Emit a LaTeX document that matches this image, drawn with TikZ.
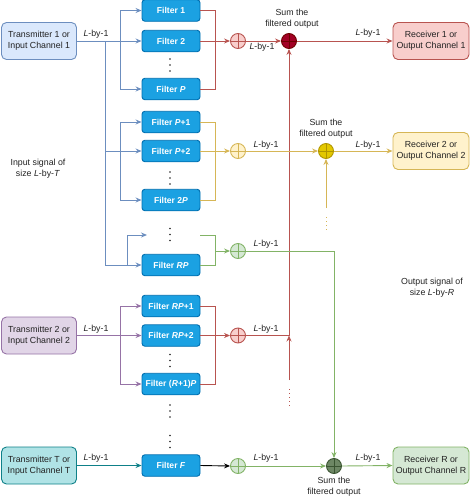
\documentclass[tikz,border=0pt]{standalone}
\usepackage{fontspec}
\setmainfont{Liberation Sans}
\usetikzlibrary{arrows.meta}
\definecolor{filterfill}{HTML}{1BA1E2}
\definecolor{filterdraw}{HTML}{006EAF}
\definecolor{textc}{HTML}{222222}
\definecolor{cblue}{HTML}{6C8EBF}
\definecolor{bluefill}{HTML}{DAE8FC}
\definecolor{cred}{HTML}{B85450}
\definecolor{redfill}{HTML}{F8CECC}
\definecolor{cyel}{HTML}{D6B656}
\definecolor{yelfill}{HTML}{FFF2CC}
\definecolor{cgrn}{HTML}{82B366}
\definecolor{grnfill}{HTML}{D5E8D4}
\definecolor{cpur}{HTML}{9673A6}
\definecolor{purfill}{HTML}{E1D5E7}
\definecolor{cteal}{HTML}{0E8088}
\definecolor{tealfill}{HTML}{B0E3E6}
\definecolor{sredfill}{HTML}{A20025}
\definecolor{sreddraw}{HTML}{6F0000}
\definecolor{syelfill}{HTML}{E3C800}
\definecolor{syeldraw}{HTML}{B09500}
\definecolor{sgrnfill}{HTML}{6D8764}
\definecolor{sgrndraw}{HTML}{3A5431}
\newcommand\Lby{\textit{L}-by-1}
\newcommand\crossin[2]{\draw[#2, line width=0.6pt] (#1.north) -- (#1.south) (#1.west) -- (#1.east);}
\newcommand\vdotsat[2]{\fill[textc] (#1,#2-6) circle (0.85pt) (#1,#2) circle (0.85pt) (#1,#2+6) circle (0.85pt);}
\begin{document}
\begin{tikzpicture}[x=1pt,y=-1pt,
  font=\fontsize{8.8}{11}\selectfont,
  filterbox/.style={draw=filterdraw, fill=filterfill, rounded corners=3pt,
    minimum width=58pt, minimum height=21.5pt, text=white, inner sep=0pt,
    font=\fontsize{8.6}{10}\selectfont\bfseries, line width=0.9pt},
  endbox/.style={rounded corners=5pt, minimum width=75pt, minimum height=37pt,
    align=center, inner sep=0pt, line width=0.9pt, text=textc},
  adder/.style={circle, minimum size=15pt, inner sep=0pt, line width=0.9pt},
  conn/.style={line width=0.9pt, -{Stealth[length=6pt,width=5pt]}},
  plain/.style={line width=0.9pt},
  lab/.style={inner sep=1pt, text=textc, align=center}
]
\useasboundingbox (0,0) rectangle (474,499);

% coordinates for buses
\coordinate (xa) at (105,0);
\coordinate (xb) at (120,0);
\coordinate (xg) at (127,0);
\coordinate (xc) at (215,0);

% transmitters
\node[endbox, draw=cblue, fill=bluefill] (t1) at (39,41) {Transmitter 1 or\\Input Channel 1};
\node[endbox, draw=cpur, fill=purfill] (t2) at (39,335.5) {Transmitter 2 or\\Input Channel 2};
\node[endbox, draw=cteal, fill=tealfill] (tT) at (39,465.5) {Transmitter T or\\Input Channel T};

% receivers
\node[endbox, draw=cred, fill=redfill, minimum width=76pt] (r1) at (431,41) {Receiver 1 or\\Output Channel 1};
\node[endbox, draw=cyel, fill=yelfill, minimum width=76pt] (r2) at (431,151) {Receiver 2 or\\Output Channel 2};
\node[endbox, draw=cgrn, fill=grnfill, minimum width=76pt] (rR) at (431,465.5) {Receiver R or\\Output Channel R};

% filters
\node[filterbox] (f1) at (171,10.5) {Filter 1};
\node[filterbox] (f2) at (171,41) {Filter 2};
\node[filterbox] (fP) at (171,89) {Filter \textit{P}};
\node[filterbox] (fP1) at (171,122) {Filter \textit{P}+1};
\node[filterbox] (fP2) at (171,151) {Filter \textit{P}+2};
\node[filterbox] (f2P) at (171,200) {Filter 2\textit{P}};
\node[filterbox] (fRP) at (171,265) {Filter \textit{RP}};
\node[filterbox] (fRP1) at (171,306) {Filter \textit{RP}+1};
\node[filterbox] (fRP2) at (171,335.5) {Filter \textit{RP}+2};
\node[filterbox] (fR1P) at (171,384) {Filter (\textit{R}+1)\textit{P}};
\node[filterbox] (fF) at (171,465.5) {Filter \textit{F}};

% dots in filter column
\vdotsat{170}{65}
\vdotsat{170}{178}
\vdotsat{170}{234.5}
\vdotsat{170}{360.5}
\vdotsat{170}{411}
\vdotsat{170}{441.5}

% small adders
\node[adder, draw=cred, fill=redfill] (a1) at (238,41) {};
\node[adder, draw=cyel, fill=yelfill] (a2) at (238,151) {};
\node[adder, draw=cgrn, fill=grnfill] (a3) at (238,251) {};
\node[adder, draw=cred, fill=redfill] (a4) at (238,335.5) {};
\node[adder, draw=cgrn, fill=grnfill] (a5) at (238,466) {};
\crossin{a1}{cred}
\crossin{a2}{cyel}
\crossin{a3}{cgrn}
\crossin{a4}{cred}
\crossin{a5}{cgrn}

% sum circles
\node[adder, draw=sreddraw, fill=sredfill] (s1) at (289,41) {};
\node[adder, draw=syeldraw, fill=syelfill] (s2) at (326,151) {};
\node[adder, draw=sgrndraw, fill=sgrnfill] (s3) at (334,466) {};
\crossin{s1}{sreddraw}
\crossin{s2}{syeldraw}
\crossin{s3}{sgrndraw}

% ---------- transmitter 1 connections
\draw[conn, cblue] (t1.east) -- (f2.west);
\draw[plain, cblue] (f1.west -| xb) -- (fP.west -| xb);
\draw[conn, cblue] (f1.west -| xb) -- (f1.west);
\draw[conn, cblue] (fP.west -| xb) -- (fP.west);
\draw[conn, cblue] (t1.east -| xa) -- (fRP.west -| xa) -- (fRP.west);
\draw[conn, cblue] (fP2.west -| xa) -- (fP2.west);
\draw[plain, cblue] (fP1.west -| xb) -- (f2P.west -| xb);
\draw[conn, cblue] (fP1.west -| xb) -- (fP1.west);
\draw[conn, cblue] (f2P.west -| xb) -- (f2P.west);
\coordinate (gdl) at (147,235);
\coordinate (gdr) at (200,235);
\draw[conn, cblue] (fRP.west -| xg) -- (gdl -| xg) -- (gdl);

% ---------- transmitter 2 connections
\draw[conn, cpur] (t2.east) -- (fRP2.west);
\draw[plain, cpur] (fRP1.west -| xb) -- (fR1P.west -| xb);
\draw[conn, cpur] (fRP1.west -| xb) -- (fRP1.west);
\draw[conn, cpur] (fR1P.west -| xb) -- (fR1P.west);

% ---------- transmitter T
\draw[conn, cteal] (tT.east) -- (fF.west);

% ---------- filter outputs
\draw[plain, cred] (f1.east) -- (f1.east -| xc) -- (fP.east -| xc) -- (fP.east);
\draw[conn, cred] (f2.east) -- (a1.west);
\draw[plain, cyel] (fP1.east) -- (fP1.east -| xc) -- (f2P.east -| xc) -- (f2P.east);
\draw[conn, cyel] (fP2.east) -- (a2.west);
\draw[plain, cgrn] (gdr) -- (gdr -| xc) -- (fRP.east -| xc) -- (fRP.east);
\draw[conn, cgrn] (a3.west -| xc) -- (a3.west);
\draw[plain, cred] (fRP1.east) -- (fRP1.east -| xc) -- (fR1P.east -| xc) -- (fR1P.east);
\draw[conn, cred] (fRP2.east) -- (a4.west);
\draw[conn, black] (fF.east) -- (a5.west);

% ---------- red sum
\coordinate (jr) at (289,335.5);
\coordinate (rlow) at (289,380);
\draw[conn, cred] (a1.east) -- (s1.west);
\draw[plain, cred] (a4.east) -- (jr);
\draw[conn, cred] (jr) -- (s1.south);
\draw[conn, cred] (rlow) -- (jr);
\draw[cred, line width=0.9pt, dash pattern=on 1pt off 3pt] (289,389) -- (289,407);
\draw[conn, cred] (s1.east) -- (r1.west);

% ---------- yellow sum
\coordinate (ylow) at (326,208);
\draw[conn, cyel] (a2.east) -- (s2.west);
\draw[conn, cyel] (ylow) -- (s2.south);
\draw[cyel, line width=0.9pt, dash pattern=on 1pt off 3pt] (326,217) -- (326,231);
\draw[conn, cyel] (s2.east) -- (r2.west);

% ---------- green sum
\draw[conn, cgrn] (a3.east) -- (a3.east -| s3) -- (s3.north);
\draw[conn, cgrn] (a5.east) -- (s3.west);
\draw[conn, cgrn] (s3.east) -- (rR.west);

% ---------- labels
\node[lab] (l1) at (96,34) {\Lby};
\node[lab] (l2) at (96,329) {\Lby};
\node[lab] (l3) at (96,458.5) {\Lby};
\node[lab] (l4) at (262,47) {\Lby};
\node[lab] (l5) at (368,33.5) {\Lby};
\node[lab] (l6) at (266,145) {\Lby};
\node[lab] (l7) at (368,145) {\Lby};
\node[lab] (l8) at (266,244) {\Lby};
\node[lab] (l9) at (266,329) {\Lby};
\node[lab] (l10) at (266,458.5) {\Lby};
\node[lab] (l11) at (368,458.5) {\Lby};

\node[lab] (sum1) at (292,18.5) {Sum the\\filtered output};
\node[lab] (sum2) at (326,128.5) {Sum the\\filtered output};
\node[lab] (sum3) at (334,487) {Sum the\\filtered output};

\node[lab] (insig) at (38,168.5) {Input signal of\\size \textit{L}-by-\textit{T}};
\node[lab] (outsig) at (432,288) {Output signal of\\size \textit{L}-by-\textit{R}};
\end{tikzpicture}
\end{document}
